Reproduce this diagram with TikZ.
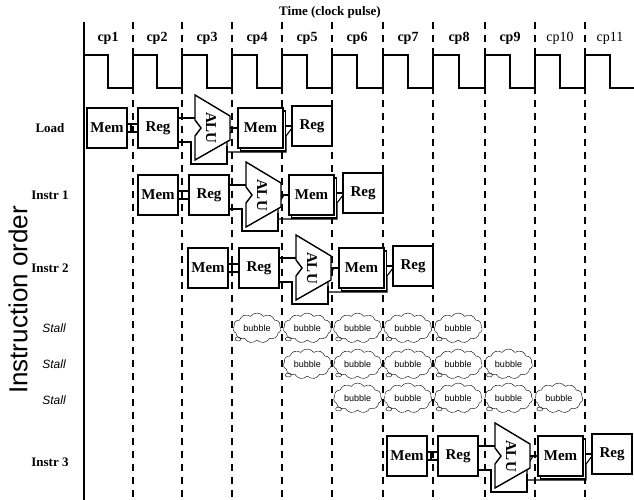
\documentclass[tikz,border=0pt]{standalone}
\usepackage{fontspec}
\setmainfont{Liberation Serif}
\newfontfamily\sans{Liberation Sans}
\usetikzlibrary{shapes.symbols}
\begin{document}
\begin{tikzpicture}[x=1pt,y=-1pt,
  box/.style={draw,line width=1.4pt,fill=white},
  lbl/.style={font=\bfseries\fontsize{15}{15}\selectfont},
  row/.style={font=\bfseries\fontsize{13}{13}\selectfont,anchor=center},
  stall/.style={font=\sans\itshape\fontsize{12}{12}\selectfont},
  bub/.style={cloud,cloud puffs=11,cloud puff arc=110,aspect=2.0,draw,thin,inner sep=0pt,minimum width=48pt,minimum height=30pt,font=\sans\fontsize{9}{9}\selectfont},
  wire/.style={line width=1.1pt},
  vdash/.style={line width=1.6pt,dash pattern=on 7pt off 6pt}]
\useasboundingbox (0,0) rectangle (634,500);
\node[font=\bfseries\fontsize{13}{13}\selectfont] (time) at (330,12) {Time (clock pulse)};
\draw[line width=1.4pt] (84,22) -- (84,500);
\foreach \i/\x in {1/133,2/182,3/232,4/282,5/332,6/383,7/433,8/485,9/535,10/585}
  \draw[vdash] (\x,22) -- (\x,500);
\foreach \i/\x in {1/108,2/157,3/207,4/257,5/307,6/357,7/408,8/459,9/510}
  \node[font=\bfseries\fontsize{14}{14}\selectfont] (cp\i) at (\x,38) {cp\i};
\node[font=\fontsize{14}{14}\selectfont] (cp10) at (560,38) {cp10};
\node[font=\fontsize{14}{14}\selectfont] (cp11) at (610,38) {cp11};
% clock
\draw[line width=1.4pt] (84,55) -- (108,55) -- (108,88) -- (133,88)
 \foreach \a/\b/\c in {133/157/182,182/207/232,232/257/282,282/307/332,332/357/383,383/408/433,433/459/485,485/510/535,535/560/585}{ -- (\a,55) -- (\b,55) -- (\b,88) -- (\c,88)}
 -- (585,55) -- (610,55) -- (610,88) -- (634,88);
\node[font=\sans\fontsize{26}{26}\selectfont,rotate=90] (order) at (18,300) {Instruction order};
\node[row] (rl) at (50,128) {Load};
\node[row] (r1) at (50,195) {Instr 1};
\node[row] (r2) at (50,268) {Instr 2};
\node[stall] (s1) at (54,328) {Stall};
\node[stall] (s2) at (54,364) {Stall};
\node[stall] (s3) at (54,400) {Stall};
\node[row] (r3) at (50,462) {Instr 3};
\newcommand\pipeinstr[3]{%
 \begin{scope}[shift={(#1,#2)}]
  \draw[wire] (40,-4) -- (51,-4) (40,4) -- (51,4);
  \draw[wire] (44,-4) -- (44,4);
  \draw[wire] (91,-10) -- (110,-10) -- (110,-14);
  \draw[wire] (91,14) -- (104,14) -- (104,36) -- (140,36) -- (140,18);
  \draw[wire] (143,0) -- (151,0);
  \draw[wire] (146,0) -- (140,10) -- (140,24) -- (199,24) -- (199,8) -- (205,0);
  \draw[wire] (196,-2) -- (205,-2);
  \node[box,minimum width=40pt,minimum height=40pt] (#3m) at (20,0) {};
  \node[lbl] at (#3m) {Mem};
  \node[box,minimum width=40pt,minimum height=40pt] (#3r) at (71,0) {};
  \node[lbl] at (#3r) {Reg};
  \filldraw[line width=1.4pt,fill=white] (108,-33) -- (143,-12) -- (143,12) -- (108,32) -- (108,8) -- (114,0) -- (108,-8) -- cycle;
  \node[lbl,rotate=-90] (#3a) at (124,0) {ALU};
  \node[box,minimum width=45pt,minimum height=40pt] (#3e) at (176,3) {};
  \node[box,minimum width=45pt,minimum height=40pt] (#3w) at (173.5,0) {};
  \node[lbl] at (#3w) {Mem};
  \node[box,minimum width=40pt,minimum height=40pt] (#3g) at (225,-2) {};
  \node[lbl] at (#3g) {Reg};
 \end{scope}}
\pipeinstr{87}{128}{L}
\pipeinstr{138}{195}{A}
\pipeinstr{188}{268}{B}
\pipeinstr{387}{456}{C}
\foreach \r/\y/\s/\e in {1/328/4/8,2/364/5/9,3/398/6/10}
  \foreach \k in {\s,...,\e}{
    \pgfmathsetmacro\cx{133+(\k-4)*50.3+124}
    \node[bub] (b\r\k) at (\cx,\y) {bubble};
    \draw[thin] (\cx-19,\y+11) ellipse (3pt and 2pt);
  }
\end{tikzpicture}
\end{document}
